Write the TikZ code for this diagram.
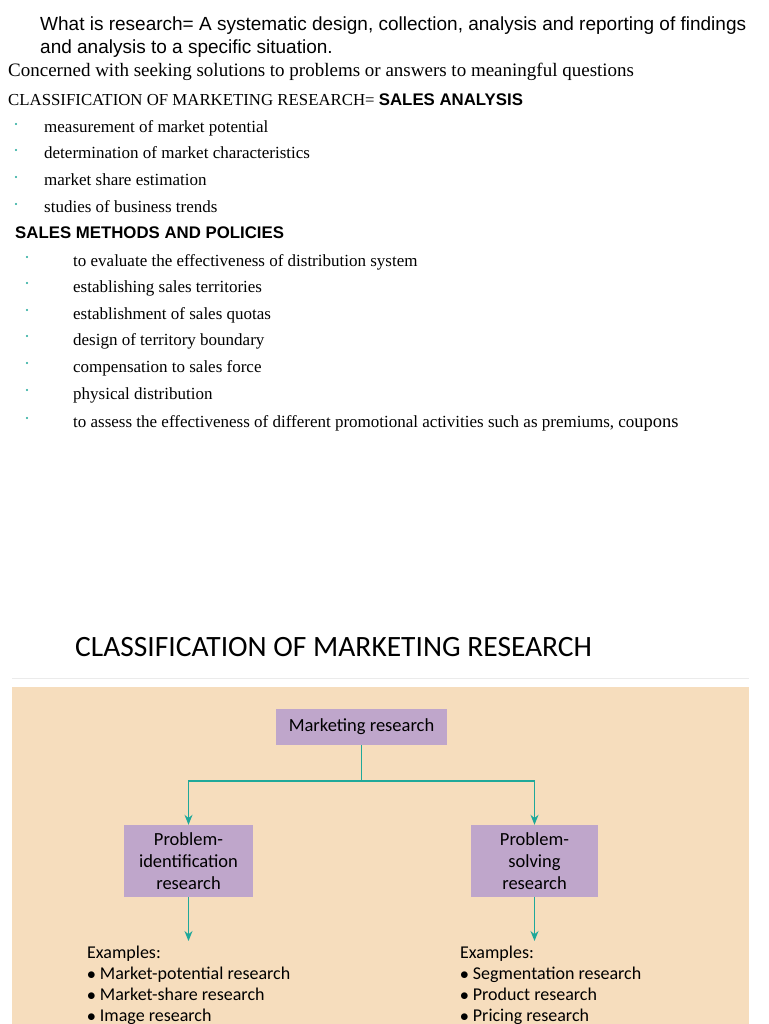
\documentclass[tikz,border=0pt]{standalone}
\usepackage{fontspec}
\usetikzlibrary{arrows.meta}
\setmainfont{Liberation Serif}
\newfontfamily\arialf{Liberation Sans}
\newfontfamily\carl{Carlito}
\definecolor{teal1}{HTML}{1FA89A}
\definecolor{peach}{HTML}{F6DDBD}
\definecolor{lilac}{HTML}{BFA6CB}
\begin{document}
\begin{tikzpicture}[x=1pt,y=-1pt,
  sans/.style={anchor=base west,inner sep=0,font=\arialf\fontsize{19}{22}\selectfont},
  serif/.style={anchor=base west,inner sep=0,font=\fontsize{17}{20}\selectfont},
  dot/.style={fill=teal1,circle,inner sep=0,minimum size=2.2pt},
  box/.style={fill=lilac,inner sep=0,font=\carl\fontsize{18.5}{22}\selectfont,align=center},
  ex/.style={anchor=north west,inner sep=0,font=\carl\fontsize{18}{21}\selectfont,align=left},
  arr/.style={teal1,line width=1.3pt,-{Stealth[length=10pt,width=8pt]}}]
\useasboundingbox (0,0) rectangle (768,1024);
\fill[white] (0,0) rectangle (768,1024);
\node[sans] (t1) at (40,31) {What is research= A systematic design, collection, analysis and reporting of findings};
\node[sans] (t2) at (40,54) {and analysis to a specific situation.};
\node[serif,font=\fontsize{19}{22}\selectfont] (t3) at (8,77) {Concerned with seeking solutions to problems or answers to meaningful questions};
\node[serif,font=\fontsize{16.8}{20}\selectfont] (t4) at (8,106) {CLASSIFICATION OF MARKETING RESEARCH= \textbf{\arialf\fontsize{16.8}{20}\selectfont SALES ANALYSIS}};
\foreach \y/\t [count=\i] in {133/measurement of market potential,159/determination of market characteristics,186/market share estimation,213/studies of business trends}{
  \node[dot] (da\i) at (16,\y-9) {};
  \node[serif] (la\i) at (44,\y) {\t};
}
\node[sans,font=\arialf\bfseries\fontsize{16.8}{20}\selectfont] (t5) at (15,239) {SALES METHODS AND POLICIES};
\foreach \y/\t [count=\i] in {266/to evaluate the effectiveness of distribution system,292/establishing sales territories,319/establishment of sales quotas,345/design of territory boundary,372/compensation to sales force,399/physical distribution,427/{to assess the effectiveness of different promotional activities such as premiums, co\fontsize{18.5}{20}\selectfont upons}}{
  \node[dot] (db\i) at (27,\y-9) {};
  \node[serif] (lb\i) at (73,\y) {\t};
}
\node[anchor=base west,inner sep=0,font=\carl\fontsize{29.5}{32}\selectfont] (title) at (75,656) {CLASSIFICATION OF MARKETING RESEARCH};
\draw[black!8,line width=1pt] (12,678) -- (749,678);
\fill[peach] (12,687) rectangle (749,1024);
\begin{scope}
\clip (12,687) rectangle (749,1024);
\node[box,minimum width=171pt,minimum height=36pt] (mr) at (361.5,727) {Marketing research};
\node[box,minimum width=129pt,minimum height=72pt] (pi) at (188.5,861) {Problem-\\identification\\research};
\node[box,minimum width=127pt,minimum height=72pt] (ps) at (534.5,861) {Problem-\\solving\\research};
\coordinate (j) at (361.5,781);
\coordinate (el) at (188.5,941);
\coordinate (er) at (534.5,941);
\draw[teal1,line width=1.3pt] (mr.south) -- (j);
\draw[arr] (j) -| (pi.north);
\draw[arr] (j) -| (ps.north);
\draw[arr] (pi.south) -- (el);
\draw[arr] (ps.south) -- (er);
\node[ex] (exl) at (87,946) {Examples:\\$\bullet$ Market-potential research\\$\bullet$ Market-share research\\$\bullet$ Image research};
\node[ex] (exr) at (460,946) {Examples:\\$\bullet$ Segmentation research\\$\bullet$ Product research\\$\bullet$ Pricing research};
\end{scope}
\end{tikzpicture}
\end{document}
